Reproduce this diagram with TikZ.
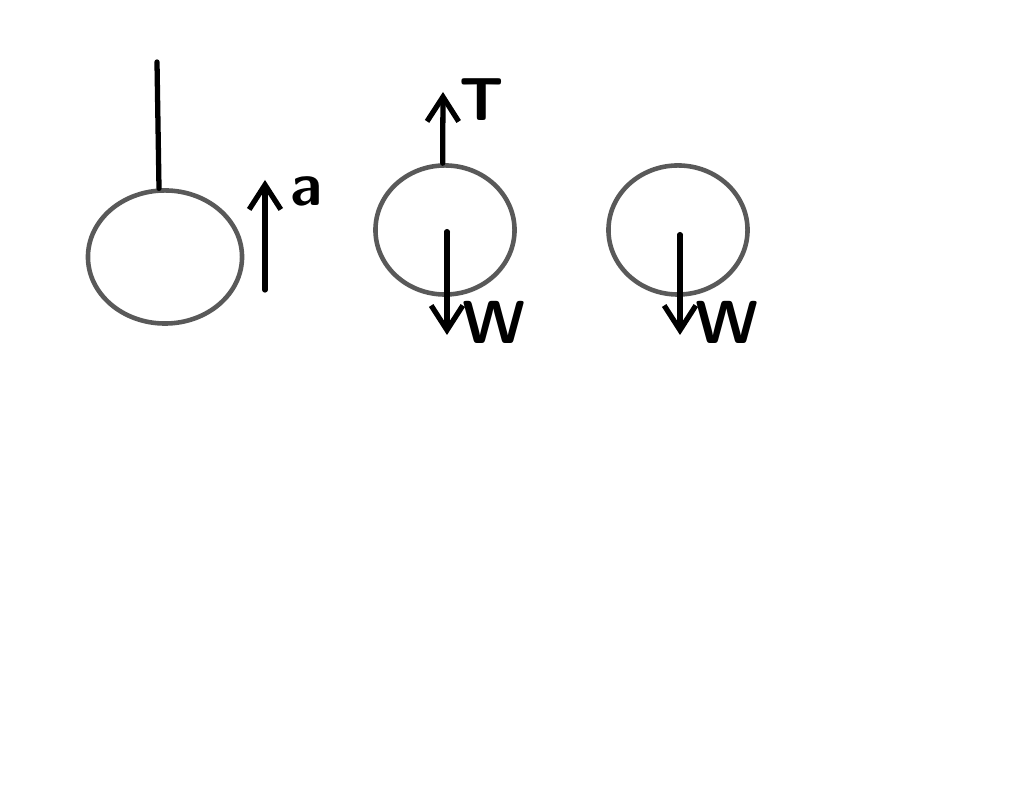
\documentclass[tikz,border=0pt]{standalone}
\usepackage{tikz}
\usetikzlibrary{shapes.geometric,arrows.meta}

\begin{document}
\begin{tikzpicture}[x=0.01cm, y=-0.01cm, >={Straight Barb[length=7pt,width=9pt]},
    bola/.style={draw=black!65, ellipse, line width=1.3pt, inner sep=0pt},
    fuerza/.style={->, line width=1.5pt, line cap=round},
    etiqueta/.style={font=\LARGE\sffamily\bfseries}] % Unidades en pixeles, eje y hacia abajo
    \useasboundingbox (0,0) rectangle (1024,792);
    % Bola colgada de la cuerda
    \node[bola, minimum width=1.54cm, minimum height=1.33cm] (bola1) at (165,257) {};
    \coordinate (techo) at (157,62);
    \draw[line width=1.5pt, line cap=round] (techo) -- (bola1.95);
    \coordinate (a0) at (265,290);
    \coordinate (a1) at (265,180);
    \draw[fuerza] (a0) -- (a1); % Aceleracion
    \node[etiqueta] (la) at (306,191) {a};
    % Diagrama de cuerpo libre: tension y peso
    \node[bola, minimum width=1.39cm, minimum height=1.29cm] (bola2) at (445,230) {};
    \coordinate (t1) at (443,92);
    \draw[fuerza] (bola2.92) -- (t1) ;
    \node[etiqueta] (lt) at (482,100) {T};
    \coordinate (c2) at (447,232);
    \coordinate (w2) at (447,335);
    \fill (c2) circle (3);
    \draw[fuerza] (c2) -- (w2);
    \node[etiqueta] (lw2) at (494,322) {W};
    % Solo el peso
    \node[bola, minimum width=1.39cm, minimum height=1.29cm] (bola3) at (678,230) {};
    \coordinate (c3) at (680,235);
    \coordinate (w3) at (680,335);
    \fill (c3) circle (3);
    \draw[fuerza] (c3) -- (w3);
    \node[etiqueta] (lw3) at (727,322) {W};
\end{tikzpicture}
\end{document}
